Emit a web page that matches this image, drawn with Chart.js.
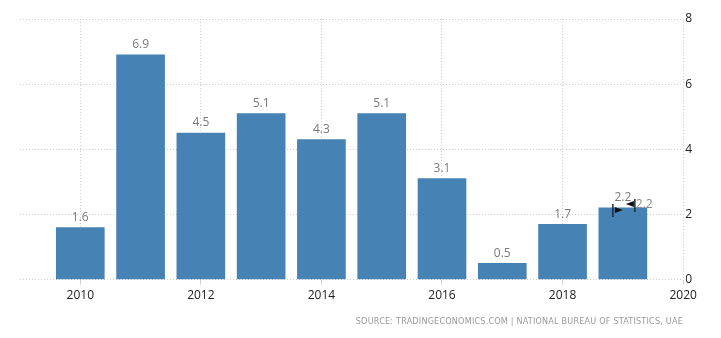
<!DOCTYPE html>
<html>
<head>
<meta charset="utf-8">
<script src="https://cdn.jsdelivr.net/npm/chart.js@4.4.0/dist/chart.umd.min.js"></script>
<style>
  html, body { margin: 0; padding: 0; background: #fff; }
  #wrap { position: relative; width: 721px; height: 338px; }
  #source {
    position: absolute; right: 38px; top: 316px;
    font: 9px "DejaVu Sans Condensed", "DejaVu Sans", sans-serif; color: #999; letter-spacing: 0.2px;
    white-space: nowrap;
  }
</style>
</head>
<body>
<div id="wrap">
  <canvas id="chart" width="721" height="338"></canvas>
  <div id="source">SOURCE: TRADINGECONOMICS.COM | NATIONAL BUREAU OF STATISTICS, UAE</div>
</div>
<script>
const years = [2010, 2011, 2012, 2013, 2014, 2015, 2016, 2017, 2018, 2019];
const growth = [1.6, 6.9, 4.5, 5.1, 4.3, 5.1, 3.1, 0.5, 1.7, 2.2];
const yearTicks = [2010, 2012, 2014, 2016, 2018, 2020];
const valueTicks = [0, 2, 4, 6, 8];

// value printed over each bar
const barLabels = {
  id: "barLabels",
  afterDatasetsDraw(chart) {
    const ctx = chart.ctx;
    const meta = chart.getDatasetMeta(0);
    ctx.save();
    ctx.font = "12px 'Open Sans', sans-serif";
    ctx.fillStyle = "#7a7a7a";
    ctx.textAlign = "center";
    ctx.textBaseline = "bottom";
    meta.data.forEach((bar, i) => {
      ctx.fillText(growth[i].toFixed(1), bar.x, bar.y - 4);
    });
    ctx.restore();
  }
};

// small range markers sitting on the last bar
const lastMarker = {
  id: "lastMarker",
  afterDatasetsDraw(chart) {
    const ctx = chart.ctx;
    const i = growth.length - 1;
    const bar = chart.getDatasetMeta(0).data[i];
    const y = chart.scales.y.getPixelForValue(growth[i]);
    ctx.save();
    ctx.strokeStyle = "#1c2a3a";
    ctx.fillStyle = "#111";
    ctx.lineWidth = 1.5;
    // left marker: bar + arrow pointing right
    let x = bar.x - 10;
    ctx.beginPath(); ctx.moveTo(x, y - 4); ctx.lineTo(x, y + 9); ctx.stroke();
    ctx.beginPath(); ctx.moveTo(x + 2, y - 1); ctx.lineTo(x + 10, y + 2); ctx.lineTo(x + 2, y + 5); ctx.closePath(); ctx.fill();
    // right marker: bar + arrow pointing left
    x = bar.x + 12;
    ctx.beginPath(); ctx.moveTo(x, y - 9); ctx.lineTo(x, y + 4); ctx.stroke();
    ctx.beginPath(); ctx.moveTo(x - 1, y - 7); ctx.lineTo(x - 9, y - 4); ctx.lineTo(x - 1, y - 1); ctx.closePath(); ctx.fill();
    ctx.font = "12px 'Open Sans', sans-serif";
    ctx.fillStyle = "#8a8a8a";
    ctx.textAlign = "left";
    ctx.textBaseline = "middle";
    ctx.fillText(growth[i].toFixed(1), x + 1, y - 3);
    ctx.restore();
  }
};

new Chart(document.getElementById("chart").getContext("2d"), {
  type: "bar",
  data: {
    datasets: [{
      data: years.map((yr, i) => ({x: yr, y: growth[i]})),
      backgroundColor: "#4682b4",
      borderWidth: 0,
      barThickness: 48
    }]
  },
  options: {
    responsive: false,
    animation: false,
    layout: {padding: {left: 20, top: 19, right: 27, bottom: 31}},
    plugins: {legend: {display: false}, tooltip: {enabled: false}},
    scales: {
      x: {
        type: "linear",
        offset: false,
        min: 2009,
        max: 2020,
        afterBuildTicks: (axis) => { axis.ticks = yearTicks.map(v => ({value: v})); },
        grid: {
          offset: false,
          color: "#cfcfcf",
          lineWidth: 1,
          tickLength: 5,
          tickColor: "#cfcfcf",
          tickBorderDash: [],
          drawOnChartArea: true
        },
        border: {display: false, dash: [1, 2]},
        ticks: {
          font: {family: "'Open Sans', sans-serif", size: 12},
          color: "#222",
          padding: 4,
          maxRotation: 0,
          callback: (v) => String(v)
        }
      },
      y: {
        position: "right",
        min: 0,
        max: 8,
        afterBuildTicks: (axis) => { axis.ticks = valueTicks.map(v => ({value: v})); },
        grid: {color: "#cfcfcf", drawTicks: false},
        border: {display: false, dash: [1, 2]},
        ticks: {
          font: {family: "'Open Sans', sans-serif", size: 12},
          color: "#222",
          padding: 2
        }
      }
    }
  },
  plugins: [barLabels, lastMarker]
});
</script>
</body>
</html>
